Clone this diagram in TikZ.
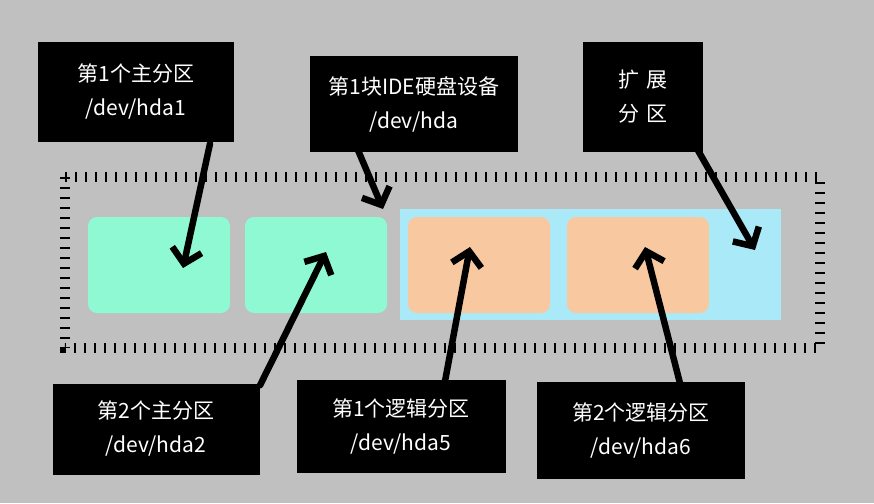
\documentclass[tikz,border=0pt]{standalone}
\usepackage{fontspec}
\newfontfamily\cjk{Noto Sans CJK SC}
\usetikzlibrary{arrows.meta,positioning}
\definecolor{bggray}{HTML}{C0C0C0}
\definecolor{primgreen}{HTML}{8FF9D4}
\definecolor{extblue}{HTML}{AAEAF8}
\definecolor{logorange}{HTML}{F8C9A0}
\tikzset{
  font=\cjk,
  label box/.style={
    fill=black,
    text=white,
    font=\cjk\fontsize{21pt}{34pt}\selectfont,
    align=center,
    inner sep=0pt
  },
  part box/.style={
    rounded corners=9pt
  },
  pointer/.style={
    line width=6.5pt,
    line cap=round,
    line join=round,
    -{Straight Barb[length=14pt,width=30pt,line width=6.5pt]}
  }
}
\begin{document}
\begin{tikzpicture}[x=1pt,y=-1pt]
% Background
\fill[bggray] (0,0) rectangle (874,503);
\useasboundingbox (0,0) rectangle (874,503);
% Disk border
\draw[line width=10pt,dash pattern=on 1.6pt off 8.4pt] (65,177) rectangle (820,348);
% Partitions
\fill[extblue] (400,209) rectangle (781,320);
\node[part box,fill=primgreen,minimum width=142pt,minimum height=96pt] (p1) at (159,265) {};
\node[part box,fill=primgreen,minimum width=142pt,minimum height=96pt] (p2) at (316,265) {};
\node[part box,fill=logorange,minimum width=142pt,minimum height=96pt] (l5) at (479,265) {};
\node[part box,fill=logorange,minimum width=142pt,minimum height=96pt] (l6) at (638,265) {};
\coordinate (ext) at (755,250);
\coordinate (disk) at (383,209);
% Labels
\node[label box,minimum width=196pt,minimum height=99pt] (n1) at (136,92) {第1个主分区\\/dev/hda1};
\node[label box,minimum width=208pt,minimum height=96pt] (nd) at (414,104) {第1块IDE硬盘设备\\/dev/hda};
\node[label box,minimum width=120pt,minimum height=109pt] (ne) at (643,97) {扩\,\,展\\分\,\,区};
\node[label box,minimum width=207pt,minimum height=91pt] (n2) at (156,429) {第2个主分区\\/dev/hda2};
\node[label box,minimum width=209pt,minimum height=93pt] (n5) at (401,426) {第1个逻辑分区\\/dev/hda5};
\node[label box,minimum width=208pt,minimum height=97pt] (n6) at (641,430) {第2个逻辑分区\\/dev/hda6};
% Arrows
\draw[pointer] (n1.south) ++(74,2) -- ([xshift=24pt,yshift=-3pt]p1.center);
\draw[pointer] ([xshift=104pt,yshift=-2pt]n2.north) -- ([xshift=10pt,yshift=13pt]p2.center);
\draw[pointer] ([xshift=-56pt,yshift=2pt]nd.south) -- (disk);
\draw[pointer] ([xshift=44pt,yshift=-2pt]n5.north) -- ([xshift=-9pt,yshift=18pt]l5.center);
\draw[pointer] ([xshift=39pt,yshift=-2pt]n6.north) -- ([xshift=7pt,yshift=18pt]l6.center);
\draw[pointer] ([xshift=54pt,yshift=3pt]ne.south) -- (ext);
\end{tikzpicture}
\end{document}
